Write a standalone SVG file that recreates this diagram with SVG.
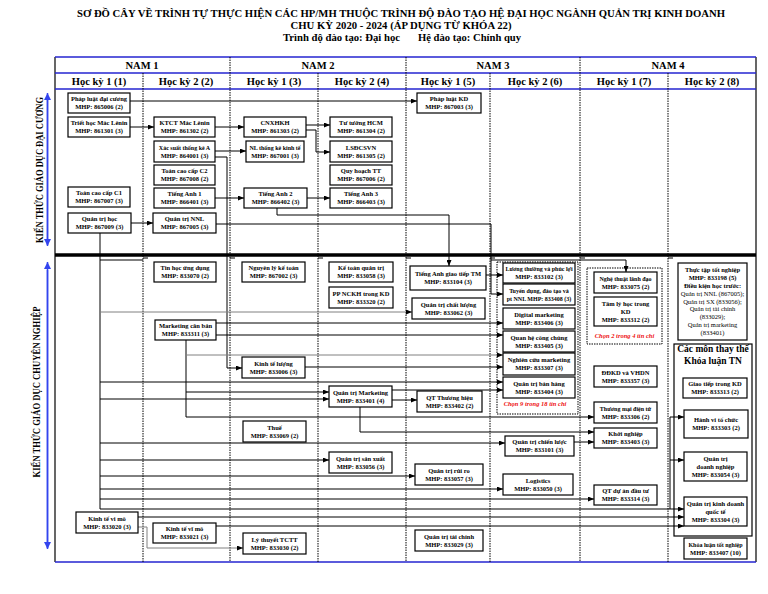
<svg xmlns="http://www.w3.org/2000/svg" width="768" height="594" viewBox="0 0 768 594">
<style>
.b{fill:#fff;stroke:#000;stroke-width:1.2}
.t{font-family:"Liberation Serif","Times New Roman",serif;font-weight:bold;font-size:6.5px;text-anchor:middle;fill:#000}
.s{font-size:6px}
.nw{font-weight:normal}
.h{font-family:"Liberation Serif","Times New Roman",serif;font-weight:bold;font-size:10.5px;text-anchor:middle;fill:#000}
.ti{font-family:"Liberation Serif","Times New Roman",serif;font-weight:bold;font-size:9.5px;fill:#000}
.c{fill:none;stroke:#000;stroke-width:1}
.g{stroke:#808080}
.dv{fill:none;stroke:#000;stroke-width:1;stroke-dasharray:1.5,1}
.bl{fill:none;stroke:#2424d0;stroke-width:1.5}
.red{fill:#ee1111;font-style:italic}
</style>
<defs>
<marker id="a" markerWidth="6" markerHeight="5" refX="6" refY="2.5" orient="auto" markerUnits="userSpaceOnUse"><path d="M0,0 L6,2.5 L0,5z" fill="#000"/></marker>
<marker id="ab" markerWidth="7" markerHeight="7" refX="7" refY="3.5" orient="auto" markerUnits="userSpaceOnUse"><path d="M0,0 L7,3.5 L0,7z" fill="#3344ee"/></marker>
</defs>
<rect width="768" height="594" fill="#fff"/>
<!-- title -->
<text class="ti" x="401" y="17" text-anchor="middle" textLength="648" lengthAdjust="spacingAndGlyphs">SƠ ĐỒ CÂY VỀ TRÌNH TỰ THỰC HIỆN CÁC HP/MH THUỘC TRÌNH ĐỘ ĐÀO TẠO HỆ ĐẠI HỌC NGÀNH QUẢN TRỊ KINH DOANH</text>
<text class="ti" x="401" y="29" text-anchor="middle" textLength="221" lengthAdjust="spacingAndGlyphs">CHU KỲ 2020 - 2024 (ÁP DỤNG TỪ KHÓA 22)</text>
<text class="ti" x="283" y="41" textLength="117" lengthAdjust="spacingAndGlyphs">Trình độ đào tạo: Đại học</text>
<text class="ti" x="418" y="41" textLength="103" lengthAdjust="spacingAndGlyphs">Hệ đào tạo: Chính quy</text>
<!-- frame -->
<g id="frame">
<line x1="55" y1="57" x2="55" y2="562" stroke="#000" stroke-width="1.2"/>
<line x1="756" y1="57" x2="756" y2="562" stroke="#000" stroke-width="1.2"/>
<line class="bl" x1="55" y1="57" x2="756" y2="57"/>
<line class="bl" x1="55" y1="73" x2="756" y2="73"/>
<line class="bl" x1="55" y1="89" x2="756" y2="89"/>
<line class="bl" x1="55" y1="562" x2="756" y2="562"/>
<line x1="55" y1="255" x2="756" y2="255" stroke="#000" stroke-width="3.5"/>
<path class="dv" d="M230,57V562M406,57V562M580,57V562M143,73V562M318,73V562M490,73V562M668,73V562"/>
<path class="c" d="M143,258h5M230,258h5M318,258h5M406,258h5M490,258h5M580,258h5M668,258h5"/>
<text class="h" x="142" y="69">NAM 1</text>
<text class="h" x="318" y="69">NAM 2</text>
<text class="h" x="493" y="69">NAM 3</text>
<text class="h" x="668" y="69">NAM 4</text>
<text class="h" x="99" y="85">Học kỳ 1 (1)</text>
<text class="h" x="186" y="85">Học kỳ 2 (2)</text>
<text class="h" x="274" y="85">Học kỳ 1 (3)</text>
<text class="h" x="362" y="85">Học kỳ 2 (4)</text>
<text class="h" x="448" y="85">Học kỳ 1 (5)</text>
<text class="h" x="535" y="85">Học kỳ 2 (6)</text>
<text class="h" x="624" y="85">Học kỳ 1 (7)</text>
<text class="h" x="712" y="85">Học kỳ 2 (8)</text>
<line x1="47.5" y1="245" x2="47.5" y2="93" stroke="#3344ee" stroke-width="1.5" marker-end="url(#ab)"/>
<line x1="47.5" y1="100" x2="47.5" y2="246" stroke="#3344ee" stroke-width="1.5" marker-end="url(#ab)"/>
<line x1="47.5" y1="548" x2="47.5" y2="262" stroke="#3344ee" stroke-width="1.5" marker-end="url(#ab)"/>
<line x1="47.5" y1="270" x2="47.5" y2="549" stroke="#3344ee" stroke-width="1.5" marker-end="url(#ab)"/>
<text class="ti" transform="translate(43,170) rotate(-90)" text-anchor="middle" font-size="8.5" textLength="146" lengthAdjust="spacingAndGlyphs">KIẾN THỨC GIÁO DỤC ĐẠI CƯƠNG</text>
<text class="ti" transform="translate(40,392) rotate(-90)" text-anchor="middle" font-size="8.5" textLength="171" lengthAdjust="spacingAndGlyphs">KIẾN THỨC GIÁO DỤC  CHUYÊN NGHIỆP</text>
<rect x="497" y="262" width="81" height="152" class="dv"/>
<rect x="587" y="268" width="75" height="76" class="dv"/>
<rect x="674" y="344" width="78" height="192" fill="none" stroke="#000" stroke-width="1.2"/>
<text class="t red" x="535" y="406">Chọn 9 trong 18 tín chỉ</text>
<text class="t red" x="624.5" y="338">Chọn 2 trong 4 tín chỉ</text>
<text class="ti" x="713" y="352" text-anchor="middle" font-size="9">Các môn thay thế</text>
<text class="ti" x="713" y="364" text-anchor="middle" font-size="9">Khóa luận TN</text>
</g>
<!-- connectors -->
<g id="connectors">
<path class="c" d="M130,101H417" marker-end="url(#a)"/>
<path class="c" d="M130,127H154" marker-end="url(#a)"/>
<path class="c" d="M215,127H244" marker-end="url(#a)"/>
<path class="c" d="M306,125H330" marker-end="url(#a)"/>
<path class="c" d="M306,130H316V152H330" marker-end="url(#a)"/>
<path class="c" d="M215,151H246" marker-end="url(#a)"/>
<path class="c" d="M215,157H227V368H242" marker-end="url(#a)"/>
<path class="c" d="M215,198H244" marker-end="url(#a)"/>
<path class="c" d="M307,198H330" marker-end="url(#a)"/>
<path class="c" d="M277,208V215H449V266" marker-end="url(#a)"/>
<path class="c" d="M131,223H153" marker-end="url(#a)"/>
<path class="c" d="M216,224H491V294H503" marker-end="url(#a)"/>
<path class="c" d="M486,275H503" marker-end="url(#a)"/>
<path class="c" d="M491,260H626V272" marker-end="url(#a)"/>
<path class="c" d="M100,233V509"/>
<path class="c" d="M100,260H143"/>
<path class="c g" d="M100,312H412" marker-end="url(#a)"/>
<path class="c" d="M216,323H503" marker-end="url(#a)"/>
<path class="c" d="M216,335H503" marker-end="url(#a)"/>
<path class="c" d="M186,340V417H594" marker-end="url(#a)"/>
<path class="c g" d="M186,355H503" marker-end="url(#a)"/>
<path class="c" d="M305,367H503" marker-end="url(#a)"/>
<path class="c" d="M100,382H503" marker-end="url(#a)"/>
<path class="c" d="M392,390H503" marker-end="url(#a)"/>
<path class="c" d="M186,392H329" marker-end="url(#a)"/>
<path class="c" d="M100,399H329" marker-end="url(#a)"/>
<path class="c" d="M392,400H417" marker-end="url(#a)"/>
<path class="c" d="M360,407V432H594" marker-end="url(#a)"/>
<path class="c" d="M100,443H505" marker-end="url(#a)"/>
<path class="c" d="M574,442H594" marker-end="url(#a)"/>
<path class="c" d="M100,460H329" marker-end="url(#a)"/>
<path class="c" d="M100,476H415" marker-end="url(#a)"/>
<path class="c" d="M100,489H503" marker-end="url(#a)"/>
<path class="c" d="M100,499H594" marker-end="url(#a)"/>
<path class="c" d="M100,509H684" marker-end="url(#a)"/>
<path class="c" d="M138,517H684" marker-end="url(#a)"/>
<path class="c" d="M216,526H684" marker-end="url(#a)"/>
<path class="c g" d="M138,527H147V548H243" marker-end="url(#a)"/>
<path class="c" d="M670,509V417H684" marker-end="url(#a)"/>
<path class="c" d="M670,460H684" marker-end="url(#a)"/>
</g>
<!-- nodes top -->
<g id="n_pldc"><rect class="b" x="68" y="93" width="62" height="20"/><text class="t" x="99" y="101.3">Pháp luật đại cương</text><text class="t" x="99" y="109.3">MHP: 865006 (2)</text></g>
<g id="n_thml"><rect class="b" x="68" y="117" width="62" height="20"/><text class="t" x="99" y="125.3">Triết học Mác Lênin</text><text class="t" x="99" y="133.3">MHP: 861301 (3)</text></g>
<g id="n_tcc1"><rect class="b" x="68" y="187" width="62" height="20"/><text class="t" x="99" y="195.3">Toán cao cấp C1</text><text class="t" x="99" y="203.3">MHP: 867007 (3)</text></g>
<g id="n_qth"><rect class="b" x="68" y="213" width="63" height="20"/><text class="t" x="99.5" y="221.3">Quản trị học</text><text class="t" x="99.5" y="229.3">MHP: 867009 (3)</text></g>
<g id="n_ktct"><rect class="b" x="154" y="117" width="61" height="20"/><text class="t" x="184.5" y="125.3">KTCT Mác Lênin</text><text class="t" x="184.5" y="133.3">MHP: 861302 (2)</text></g>
<g id="n_xstk"><rect class="b" x="154" y="141" width="61" height="21"/><text class="t s" x="184.5" y="149.8">Xác suất thống kê A</text><text class="t" x="184.5" y="157.8">MHP: 864001 (3)</text></g>
<g id="n_tcc2"><rect class="b" x="154" y="165" width="61" height="20"/><text class="t" x="184.5" y="173.3">Toán cao cấp C2</text><text class="t" x="184.5" y="181.3">MHP: 867008 (2)</text></g>
<g id="n_ta1"><rect class="b" x="154" y="188" width="61" height="20"/><text class="t" x="184.5" y="196.3">Tiếng Anh 1</text><text class="t" x="184.5" y="204.3">MHP: 866401 (3)</text></g>
<g id="n_qtnnl"><rect class="b" x="153" y="213" width="63" height="20"/><text class="t" x="184.5" y="221.3">Quản trị NNL</text><text class="t" x="184.5" y="229.3">MHP: 867005 (3)</text></g>
<g id="n_cnxh"><rect class="b" x="244" y="117" width="62" height="20"/><text class="t" x="275" y="125.3">CNXHKH</text><text class="t" x="275" y="133.3">MHP: 861303 (2)</text></g>
<g id="n_nltk"><rect class="b" x="246" y="141" width="58" height="21"/><text class="t s" x="275" y="149.8">NL thống kê kinh tế</text><text class="t" x="275" y="157.8">MHP: 867001 (3)</text></g>
<g id="n_ta2"><rect class="b" x="244" y="188" width="63" height="20"/><text class="t" x="275.5" y="196.3">Tiếng Anh 2</text><text class="t" x="275.5" y="204.3">MHP: 866402 (3)</text></g>
<g id="n_tthcm"><rect class="b" x="330" y="117" width="62" height="20"/><text class="t" x="361" y="125.3">Tư tưởng HCM</text><text class="t" x="361" y="133.3">MHP: 861304 (2)</text></g>
<g id="n_ls"><rect class="b" x="330" y="141" width="62" height="21"/><text class="t" x="361" y="149.8">LSĐCSVN</text><text class="t" x="361" y="157.8">MHP: 861305 (2)</text></g>
<g id="n_qhtt"><rect class="b" x="330" y="165" width="62" height="20"/><text class="t" x="361" y="173.3">Quy hoạch TT</text><text class="t" x="361" y="181.3">MHP: 867006 (2)</text></g>
<g id="n_ta3"><rect class="b" x="330" y="188" width="62" height="20"/><text class="t" x="361" y="196.3">Tiếng Anh 3</text><text class="t" x="361" y="204.3">MHP: 866403 (3)</text></g>
<g id="n_plkd"><rect class="b" x="417" y="93" width="64" height="20"/><text class="t" x="449" y="101.3">Pháp luật KD</text><text class="t" x="449" y="109.3">MHP: 867003 (3)</text></g>
<!-- nodes lower -->
<g id="n_thud"><rect class="b" x="154" y="262" width="62" height="20"/><text class="t" x="185" y="270.3">Tin học ứng dụng</text><text class="t" x="185" y="278.3">MHP: 833070 (2)</text></g>
<g id="n_mkcb"><rect class="b" x="155" y="320" width="61" height="20"/><text class="t" x="185.5" y="328.3">Marketing căn bản</text><text class="t" x="185.5" y="336.3">MHP: 833311 (3)</text></g>
<g id="n_nlkt"><rect class="b" x="242" y="262" width="63" height="20"/><text class="t" x="273.5" y="270.3">Nguyên lý kế toán</text><text class="t" x="273.5" y="278.3">MHP: 867002 (3)</text></g>
<g id="n_ktl"><rect class="b" x="242" y="357" width="63" height="21"/><text class="t" x="273.5" y="365.8">Kinh tế lượng</text><text class="t" x="273.5" y="373.8">MHP: 833006 (3)</text></g>
<g id="n_thue"><rect class="b" x="243" y="421" width="63" height="21"/><text class="t" x="274.5" y="429.8">Thuế</text><text class="t" x="274.5" y="437.8">MHP: 833069 (2)</text></g>
<g id="n_lttc"><rect class="b" x="243" y="533" width="63" height="21"/><text class="t" x="274.5" y="541.8">Lý thuyết  TCTT</text><text class="t" x="274.5" y="549.8">MHP: 833030 (2)</text></g>
<g id="n_ktqt"><rect class="b" x="329" y="262" width="64" height="20"/><text class="t" x="361" y="270.3">Kế toán quản trị</text><text class="t" x="361" y="278.3">MHP: 833058 (3)</text></g>
<g id="n_ppnc"><rect class="b" x="329" y="287" width="64" height="21"/><text class="t" x="361" y="295.8">PP NCKH trong KD</text><text class="t" x="361" y="303.8">MHP: 833320 (2)</text></g>
<g id="n_qtmk"><rect class="b" x="329" y="386" width="63" height="21"/><text class="t" x="360.5" y="394.8">Quản trị Marketing</text><text class="t" x="360.5" y="402.8">MHP: 833401 (4)</text></g>
<g id="n_qtsx"><rect class="b" x="329" y="452" width="63" height="21"/><text class="t" x="360.5" y="460.8">Quản trị sản xuất</text><text class="t" x="360.5" y="468.8">MHP: 833056 (3)</text></g>
<g id="n_tagt"><rect class="b" x="410" y="266" width="76" height="24"/><text class="t" x="448" y="276.3">Tiếng Anh giao tiếp TM</text><text class="t" x="448" y="284.3">MHP: 833104 (3)</text></g>
<g id="n_qtcl"><rect class="b" x="412" y="298" width="73" height="21"/><text class="t" x="448.5" y="306.8">Quản trị chất lượng</text><text class="t" x="448.5" y="314.8">MHP: 833062 (3)</text></g>
<g id="n_qtth"><rect class="b" x="417" y="391" width="65" height="21"/><text class="t" x="449.5" y="399.8">QT Thương hiệu</text><text class="t" x="449.5" y="407.8">MHP: 833402 (2)</text></g>
<g id="n_qtrr"><rect class="b" x="415" y="464" width="68" height="21"/><text class="t" x="449" y="472.8">Quản trị rủi ro</text><text class="t" x="449" y="480.8">MHP: 833057 (3)</text></g>
<g id="n_qttc"><rect class="b" x="415" y="530" width="68" height="21"/><text class="t" x="449" y="538.8">Quản trị tài chính</text><text class="t" x="449" y="546.8">MHP: 833029 (3)</text></g>
<g id="n_ltpl"><rect class="b" x="503" y="263" width="72" height="20"/><text class="t s" x="539" y="271.3">Lương thưởng và phúc lợi</text><text class="t" x="539" y="279.3">MHP: 833102 (3)</text></g>
<g id="n_tdnnl"><rect class="b" x="503" y="284" width="72" height="21"/><text class="t s" x="539" y="292.8">Tuyển dụng, đào tạo và</text><text class="t s" x="539" y="300.8">pt NNL MHP: 833408 (3)</text></g>
<g id="n_dm"><rect class="b" x="503" y="308" width="72" height="21"/><text class="t" x="539" y="316.8">Digital marketing</text><text class="t" x="539" y="324.8">MHP: 833406 (3)</text></g>
<g id="n_qhcc"><rect class="b" x="503" y="331" width="72" height="21"/><text class="t" x="539" y="339.8">Quan hệ công chúng</text><text class="t" x="539" y="347.8">MHP: 833405 (3)</text></g>
<g id="n_ncmk"><rect class="b" x="503" y="353" width="72" height="22"/><text class="t" x="539" y="362.3">Nghiên cứu marketing</text><text class="t" x="539" y="370.3">MHP: 833307 (3)</text></g>
<g id="n_qtbh"><rect class="b" x="503" y="377" width="72" height="21"/><text class="t" x="539" y="385.8">Quản trị bán hàng</text><text class="t" x="539" y="393.8">MHP: 833404 (3)</text></g>
<g id="n_qtcl2"><rect class="b" x="505" y="436" width="69" height="20"/><text class="t" x="539.5" y="444.3">Quản trị chiến lược</text><text class="t" x="539.5" y="452.3">MHP: 833101 (3)</text></g>
<g id="n_log"><rect class="b" x="503" y="474" width="70" height="21"/><text class="t" x="538" y="482.8">Logistics</text><text class="t" x="538" y="490.8">MHP: 833050 (3)</text></g>
<g id="n_ntld"><rect class="b" x="594" y="272" width="63" height="21"/><text class="t s" x="625.5" y="280.8">Nghệ thuật lãnh đạo</text><text class="t" x="625.5" y="288.8">MHP: 833075 (2)</text></g>
<g id="n_tlh"><rect class="b" x="594" y="297" width="63" height="29"/><text class="t" x="625.5" y="305.8">Tâm lý học trong</text><text class="t" x="625.5" y="313.8">KD</text><text class="t" x="625.5" y="321.8">MHP: 833312 (2)</text></g>
<g id="n_ddkd"><rect class="b" x="594" y="366" width="63" height="21"/><text class="t" x="625.5" y="374.8">ĐĐKD và VHDN</text><text class="t" x="625.5" y="382.8">MHP: 833357 (3)</text></g>
<g id="n_tmdt"><rect class="b" x="594" y="402" width="63" height="21"/><text class="t s" x="625.5" y="410.8">Thương mại điện tử</text><text class="t" x="625.5" y="418.8">MHP: 833306 (2)</text></g>
<g id="n_kn"><rect class="b" x="594" y="428" width="63" height="20"/><text class="t" x="625.5" y="436.3">Khởi nghiệp</text><text class="t" x="625.5" y="444.3">MHP: 833403 (3)</text></g>
<g id="n_qtda"><rect class="b" x="594" y="485" width="63" height="20"/><text class="t" x="625.5" y="493.3">QT dự án đầu tư</text><text class="t" x="625.5" y="501.3">MHP: 833314 (3)</text></g>
<g id="n_tttn"><rect class="b" x="678" y="263" width="69" height="77"/>
<text class="t" x="712.5" y="272.3">Thực tập tốt nghiệp</text>
<text class="t" x="712.5" y="280.3">MHP: 833198 (5)</text>
<text class="t" x="712.5" y="288">Điều kiện học trước:</text>
<text class="t nw" x="712.5" y="295.8">Quản trị NNL (867005);</text>
<text class="t nw" x="712.5" y="303.6">Quản trị SX (833056);</text>
<text class="t nw" x="712.5" y="311.4">Quản trị tài chính</text>
<text class="t nw" x="712.5" y="319.2">(833029);</text>
<text class="t nw" x="712.5" y="327">Quản trị marketing</text>
<text class="t nw" x="712.5" y="334.8">(833401)</text></g>
<g id="n_gtkd"><rect class="b" x="683" y="378" width="64" height="20"/><text class="t" x="715" y="386.3">Giao tiếp trong KD</text><text class="t" x="715" y="394.3">MHP: 833313 (2)</text></g>
<g id="n_hvtc"><rect class="b" x="684" y="410" width="64" height="28"/><text class="t" x="716" y="422.3">Hành vi tổ chức</text><text class="t" x="716" y="430.3">MHP: 833303 (2)</text></g>
<g id="n_qtdn"><rect class="b" x="684" y="452" width="63" height="29"/><text class="t" x="715.5" y="460.8">Quản trị</text><text class="t" x="715.5" y="468.8">doanh nghiệp</text><text class="t" x="715.5" y="476.8">MHP: 833054 (3)</text></g>
<g id="n_qtkdqt"><rect class="b" x="684" y="497" width="63" height="29"/><text class="t" x="715.5" y="505.8">Quản trị kinh doanh</text><text class="t" x="715.5" y="513.8">quốc tế</text><text class="t" x="715.5" y="521.8">MHP: 833304 (3)</text></g>
<g id="n_kltn"><rect class="b" x="684" y="538" width="63" height="21"/><text class="t s" x="715.5" y="546.8">Khóa luận tốt nghiệp</text><text class="t" x="715.5" y="554.8">MHP: 833407 (10)</text></g>
<g id="n_vimo"><rect class="b" x="76" y="512" width="62" height="21"/><text class="t" x="107" y="520.8">Kinh tế vi mô</text><text class="t" x="107" y="528.8">MHP: 833020 (3)</text></g>
<g id="n_vimo2"><rect class="b" x="153" y="523" width="63" height="20"/><text class="t" x="184.5" y="531.3">Kinh tế vĩ mô</text><text class="t" x="184.5" y="539.3">MHP: 833021 (3)</text></g>
</svg>
